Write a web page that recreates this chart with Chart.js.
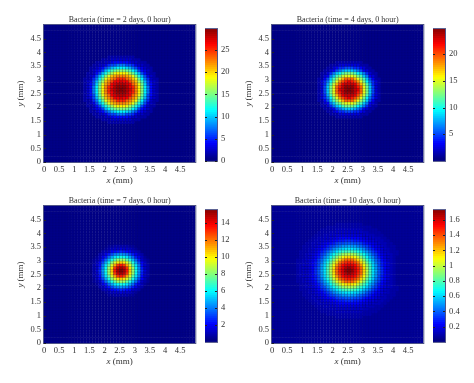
<!DOCTYPE html>
<html>
<head>
<meta charset="utf-8">
<title>Bacteria</title>
<script src="https://cdn.jsdelivr.net/npm/chart.js@4/dist/chart.umd.min.js"></script>
<style>
html, body { margin: 0; padding: 0; background: #fff; }
#page { position: relative; width: 474px; height: 383px; overflow: hidden; }
canvas { position: absolute; }
</style>
</head>
<body>
<div id="page"></div>
<script>
const axisTicks = [0, 0.5, 1, 1.5, 2, 2.5, 3, 3.5, 4, 4.5];

const titles = [
    "Bacteria (time = 2 days, 0 hour)",
    "Bacteria (time = 4 days, 0 hour)",
    "Bacteria (time = 7 days, 0 hour)",
    "Bacteria (time = 10 days, 0 hour)",
];

// colorbar ranges and ticks
const rangeDay2 = [0, 29.7];
const rangeDay4 = [0, 24.7];
const rangeDay7 = [0, 15.5];
const rangeDay10 = [0, 1.73];
const barTicksDay2 = [0, 5, 10, 15, 20, 25];
const barTicksDay4 = [5, 10, 15, 20];
const barTicksDay7 = [2, 4, 6, 8, 10, 12, 14];
const barTicksDay10 = [0.2, 0.4, 0.6, 0.8, 1, 1.2, 1.4, 1.6];

// cell values, middle row first, going outwards (rows match above and below the peak)
const rowsDay2 = [
    [1,2,4,7,11,15,19,22,25,27,28,29,29.7,29,28,27,25,22,19,15,11,7,4,2,1],
    [1,2,4,7,11,15,19,22,25,26,28,29,29,29,28,26,25,22,19,15,11,7,4,2,1],
    [1,2,4,6,10,14,18,21,23,26,27,28,28,28,27,26,23,21,18,14,10,6,4,2,1],
    [1,2,3,6,9,13,16,20,22,24,26,26,27,26,26,24,22,20,16,13,9,6,3,2,1],
    [1,1,2,5,7,11,14,18,20,22,23,25,25,25,23,22,20,18,14,11,7,5,2,1,1],
    [0,1,2,3,6,9,12,15,18,20,21,22,22,22,21,20,18,15,12,9,6,3,2,1,0],
    [0,1,1,2,4,6,9,12,14,16,18,19,19,19,18,16,14,12,9,6,4,2,1,1,0],
    [0,0,1,2,3,4,6,9,11,13,14,15,15,15,14,13,11,9,6,4,3,2,1,0,0],
    [0,0,1,1,2,3,4,6,7,9,10,11,11,11,10,9,7,6,4,3,2,1,1,0,0],
    [0,0,0,1,1,2,2,3,5,6,6,7,7,7,6,6,5,3,2,2,1,1,0,0,0],
    [0,0,0,0,1,1,1,2,2,3,4,4,4,4,4,3,2,2,1,1,1,0,0,0,0],
    [0,0,0,0,0,0,1,1,1,2,2,2,2,2,2,2,1,1,1,0,0,0,0,0,0],
    [0,0,0,0,0,0,0,0,1,1,1,1,1,1,1,1,1,0,0,0,0,0,0,0,0],
];
const rowsDay4 = [
    [1,2,5,8,12,15,19,22,23,24,24.7,24,23,22,19,15,12,8,5,2,1],
    [1,2,5,8,12,15,19,21,23,24,24,24,23,21,19,15,12,8,5,2,1],
    [1,2,4,7,11,14,17,20,22,23,23,23,22,20,17,14,11,7,4,2,1],
    [1,2,4,6,9,12,15,18,20,21,22,21,20,18,15,12,9,6,4,2,1],
    [1,1,3,5,8,11,13,15,17,19,19,19,17,15,13,11,8,5,3,1,1],
    [0,1,2,3,6,8,11,12,14,15,15,15,14,12,11,8,6,3,2,1,0],
    [0,1,1,2,4,6,8,9,11,12,12,12,11,9,8,6,4,2,1,1,0],
    [0,0,1,1,2,3,5,6,7,8,8,8,7,6,5,3,2,1,1,0,0],
    [0,0,0,1,1,2,3,4,4,5,5,5,4,4,3,2,1,1,0,0,0],
    [0,0,0,0,1,1,1,2,2,2,2,2,2,2,1,1,1,0,0,0,0],
    [0,0,0,0,0,0,1,1,1,1,1,1,1,1,1,0,0,0,0,0,0],
];
// tenths
const rowsDay7 = [
    [2,6,13,25,42,62,82,105,132,150,155,150,132,105,82,62,42,25,13,6,2],
    [2,6,12,24,40,60,80,100,127,143,150,143,127,100,80,60,40,24,12,6,2],
    [2,5,11,21,37,54,72,91,110,127,132,127,110,91,72,54,37,21,11,5,2],
    [1,4,9,18,30,46,62,78,91,100,105,100,91,78,62,46,30,18,9,4,1],
    [1,3,7,12,23,35,48,62,72,80,82,80,72,62,48,35,23,12,7,3,1],
    [1,1,4,9,15,24,35,46,54,60,62,60,54,46,35,24,15,9,4,1,1],
    [1,1,2,5,9,15,23,30,37,40,42,40,37,30,23,15,9,5,2,1,1],
    [1,1,1,2,5,9,12,18,21,24,25,24,21,18,12,9,5,2,1,1,1],
    [1,1,1,1,2,4,7,9,11,12,13,12,11,9,7,4,2,1,1,1,1],
    [1,1,1,1,1,1,3,4,5,6,6,6,5,4,3,1,1,1,1,1,1],
    [1,1,1,1,1,1,1,1,2,2,2,2,2,1,1,1,1,1,1,1,1],
];
// hundredths
const rowsDay10 = [
    [7,9,11,13,16,21,28,37,49,62,78,96,115,135,148,158,168,173,168,158,148,135,115,96,78,62,49,37,28,21,15,10,7,5,4],
    [7,9,11,13,16,21,28,37,48,61,76,94,113,133,145,156,164,168,164,156,145,133,113,94,76,61,48,37,28,21,15,10,7,5,4],
    [7,9,11,13,15,20,27,35,47,59,73,91,107,125,140,150,156,158,156,150,140,125,107,91,73,59,47,35,27,20,14,10,7,5,4],
    [7,8,10,12,15,19,25,33,43,56,68,83,100,115,131,140,145,148,145,140,131,115,100,83,68,56,43,33,25,19,14,10,7,5,4],
    [6,7,9,11,14,18,23,30,39,50,61,74,89,101,115,125,133,135,133,125,115,101,89,74,61,50,39,30,23,18,13,9,7,5,4],
    [5,6,8,10,12,16,21,27,34,44,54,65,76,89,100,107,113,115,113,107,100,89,76,65,54,44,34,27,21,16,12,9,7,5,4],
    [5,6,8,10,11,14,18,23,30,37,47,55,65,74,83,91,94,96,94,91,83,74,65,55,47,37,30,23,18,14,11,10,8,6,5],
    [5,6,7,8,10,12,16,20,25,32,38,47,54,61,68,73,76,78,76,73,68,61,54,47,38,32,25,20,16,12,10,8,7,6,5],
    [4,5,6,8,9,11,14,17,21,26,32,37,44,50,56,59,61,62,61,59,56,50,44,37,32,26,21,17,14,11,9,8,6,5,4],
    [4,5,6,7,8,10,12,14,18,21,25,30,34,39,43,47,48,49,48,47,43,39,34,30,25,21,18,14,12,10,8,7,6,5,4],
    [4,4,5,6,7,9,10,12,14,17,20,23,27,30,33,35,37,37,37,35,33,30,27,23,20,17,14,12,10,9,7,6,5,4,4],
    [4,4,4,5,6,7,9,10,12,14,16,18,21,23,25,27,28,28,28,27,25,23,21,18,16,14,12,10,9,7,6,5,4,4,4],
    [4,4,4,5,5,6,7,9,10,11,12,14,16,18,19,20,21,21,21,20,19,18,16,14,12,11,10,9,7,6,5,5,4,4,4],
    [4,4,4,4,5,5,6,7,8,9,10,11,12,14,15,15,16,16,16,15,15,14,12,11,10,9,8,7,6,5,5,4,4,4,4],
    [4,4,4,4,4,5,5,6,7,8,8,10,10,11,11,12,12,12,12,12,11,11,10,10,8,8,7,6,5,5,4,4,4,4,4],
    [4,4,4,4,4,4,4,5,6,6,7,8,8,9,9,10,10,10,10,10,9,9,8,8,7,6,6,5,4,4,4,4,4,4,4],
    [4,4,4,4,4,4,4,4,5,5,6,6,6,7,7,8,8,8,8,8,7,7,6,6,6,5,5,4,4,4,4,4,4,4,4],
    [4,4,4,4,4,4,4,4,4,4,5,5,5,6,6,6,6,6,6,6,6,6,5,5,5,4,4,4,4,4,4,4,4,4,4],
];

const textColor = "#333333";
const frameColor = "#4f5488";
const fontFamily = "'Liberation Serif', serif";

function jet(t) {
    // 64 level jet colormap
    const v = (Math.min(Math.floor(t * 64), 63) + 0.5) / 64;
    const ch = (p) => Math.round(255 * Math.max(0, Math.min(1, 1.5 - Math.abs(4 * v - p))));
    return `rgb(${ch(3)},${ch(2)},${ch(1)})`;
}

function addCanvas(left, top, width, height) {
    const canvas = document.createElement("canvas");
    canvas.width = width;
    canvas.height = height;
    canvas.style.left = left + "px";
    canvas.style.top = top + "px";
    canvas.style.width = width + "px";
    canvas.style.height = height + "px";
    document.getElementById("page").appendChild(canvas);
    return canvas;
}

function frameAndTicks(chart, tickLength, bothSides) {
    const { ctx, chartArea: a, scales } = chart;
    ctx.save();
    ctx.strokeStyle = frameColor;
    ctx.lineWidth = 1;
    ctx.strokeRect(a.left - 0.5, a.top - 0.5, a.right - a.left + 1, a.bottom - a.top + 1);
    ctx.strokeStyle = "#222";
    ctx.beginPath();
    scales.y.ticks.forEach((tick) => {
        const y = Math.round(scales.y.getPixelForValue(tick.value)) + 0.5;
        ctx.moveTo(a.left, y);
        ctx.lineTo(a.left + tickLength, y);
        if (bothSides) {
            ctx.moveTo(a.right, y);
            ctx.lineTo(a.right - tickLength, y);
        }
    });
    ctx.stroke();
    ctx.restore();
}

// x and y in the axis titles are italic, so a scale title will not do
const axisNames = {
    id: "axisNames",
    afterDraw(chart) {
        const { ctx, chartArea: a } = chart;
        const write = (letter) => {
            ctx.font = `italic 9px ${fontFamily}`;
            const w1 = ctx.measureText(letter).width;
            ctx.font = `9px ${fontFamily}`;
            const w2 = ctx.measureText(" (mm)").width;
            ctx.textAlign = "left";
            ctx.textBaseline = "middle";
            ctx.fillStyle = textColor;
            ctx.font = `italic 9px ${fontFamily}`;
            ctx.fillText(letter, -(w1 + w2) / 2, 0);
            ctx.font = `9px ${fontFamily}`;
            ctx.fillText(" (mm)", -(w1 + w2) / 2 + w1, 0);
        };
        ctx.save();
        ctx.translate((a.left + a.right) / 2, a.bottom + 19);
        write("x");
        ctx.restore();
        ctx.save();
        ctx.translate(a.left - 23, (a.top + a.bottom) / 2);
        ctx.rotate(-Math.PI / 2);
        write("y");
        ctx.restore();
        frameAndTicks(chart, 2, false);
    },
};

const colorbarFrame = {
    id: "colorbarFrame",
    afterDraw(chart) {
        frameAndTicks(chart, 2, true);
    },
};

function drawMap(panel) {
    const rows = [...panel.rows].reverse().concat(panel.rows.slice(1));
    const halfCols = (rows[0].length - 1) / 2;
    const halfRows = (rows.length - 1) / 2;
    const cells = [];
    const colors = [];
    const edges = [];
    for (let col = 0; col < 50; col++) {
        for (let row = 0; row < 50; row++) {
            const i = col - panel.peak[0] + halfCols;
            const j = panel.peak[1] + halfRows - row;
            const inside = rows[j] !== undefined && rows[j][i] !== undefined;
            const value = (inside ? rows[j][i] : panel.outside) * panel.unit;
            const level = (value - panel.range[0]) / (panel.range[1] - panel.range[0]);
            cells.push({ x: (col + 0.5) / 10, y: (row + 0.5) / 10 });
            colors.push(jet(level));
            // facet lines only really show on the lighter cells
            edges.push(level < 0.06 ? "rgba(0,0,60,0.06)" : "rgba(0,0,40,0.3)");
        }
    }
    const canvas = addCanvas(panel.left - 44, panel.top - 14, 44 + panel.width + 4, 14 + panel.height + 38);
    new Chart(canvas, {
        type: "scatter",
        data: {
            datasets: [{
                data: cells,
                pointStyle: "rect",
                // a little bigger than a cell so no white shows between them
                pointRadius: 2.4,
                pointBackgroundColor: colors,
                pointBorderColor: edges,
                pointBorderWidth: 0.7,
                clip: 0,
            }],
        },
        options: {
            responsive: false,
            animation: false,
            events: [],
            layout: { padding: { right: 4 } },
            plugins: {
                legend: { display: false },
                tooltip: { enabled: false },
                title: {
                    display: true,
                    text: panel.title,
                    fullSize: false,
                    color: textColor,
                    font: { family: fontFamily, size: 8, weight: "normal", lineHeight: 1.2 },
                    padding: { top: 3.9, bottom: 0.5 },
                },
            },
            scales: {
                x: {
                    type: "linear",
                    min: 0,
                    max: 5,
                    grid: { display: false, drawTicks: false },
                    border: { display: false },
                    afterBuildTicks(scale) { scale.ticks = axisTicks.map((value) => ({ value })); },
                    afterFit(scale) { scale.height = 38; },
                    ticks: {
                        autoSkip: false,
                        maxRotation: 0,
                        padding: 3,
                        color: textColor,
                        font: { family: fontFamily, size: 8.5 },
                        callback: (value) => String(value),
                    },
                },
                y: {
                    type: "linear",
                    min: 0,
                    max: 5,
                    grid: { display: false, drawTicks: false },
                    border: { display: false },
                    afterBuildTicks(scale) { scale.ticks = axisTicks.map((value) => ({ value })); },
                    afterFit(scale) { scale.width = 44; },
                    ticks: {
                        autoSkip: false,
                        padding: 3,
                        color: textColor,
                        font: { family: fontFamily, size: 8.5 },
                        callback: (value) => String(value),
                    },
                },
            },
        },
        plugins: [axisNames],
    });
}

function drawColorbar(panel) {
    const [low, high] = panel.range;
    const step = (high - low) / 64;
    const datasets = [];
    for (let level = 0; level < 64; level++) {
        const from = low + level * step;
        datasets.push({
            data: [[from, Math.min(high, from + step * 1.5)]],
            backgroundColor: jet((level + 0.5) / 64),
            borderWidth: 0,
            grouped: false,
            barPercentage: 1,
            categoryPercentage: 1,
        });
    }
    const canvas = addCanvas(panel.barLeft, panel.top - 5, 12 + 26, panel.height + 13);
    new Chart(canvas, {
        type: "bar",
        data: { labels: ["level"], datasets },
        options: {
            responsive: false,
            animation: false,
            events: [],
            layout: { padding: { top: 5, bottom: 8 } },
            plugins: {
                legend: { display: false },
                tooltip: { enabled: false },
            },
            scales: {
                x: { display: false },
                y: {
                    position: "right",
                    min: low,
                    max: high,
                    grid: { display: false, drawTicks: false },
                    border: { display: false },
                    afterBuildTicks(scale) { scale.ticks = panel.barTicks.map((value) => ({ value })); },
                    afterFit(scale) { scale.width = 26; },
                    ticks: {
                        autoSkip: false,
                        padding: 4,
                        color: textColor,
                        font: { family: fontFamily, size: 8.5 },
                        callback: (value) => String(value),
                    },
                },
            },
        },
        plugins: [colorbarFrame],
    });
}

const panels = [
    { title: titles[0], rows: rowsDay2, unit: 1, outside: 0, range: rangeDay2, barTicks: barTicksDay2, peak: [25, 26], left: 44, top: 25, width: 152, height: 137, barLeft: 205 },
    { title: titles[1], rows: rowsDay4, unit: 1, outside: 0, range: rangeDay4, barTicks: barTicksDay4, peak: [25, 26], left: 272, top: 25, width: 152, height: 137, barLeft: 433 },
    { title: titles[2], rows: rowsDay7, unit: 0.1, outside: 1, range: rangeDay7, barTicks: barTicksDay7, peak: [25, 26], left: 44, top: 206, width: 152, height: 137, barLeft: 205 },
    { title: titles[3], rows: rowsDay10, unit: 0.01, outside: 4, range: rangeDay10, barTicks: barTicksDay10, peak: [25, 26], left: 272, top: 206, width: 152, height: 137, barLeft: 433 },
];

panels.forEach((panel) => {
    drawMap(panel);
    drawColorbar(panel);
});
</script>
</body>
</html>
